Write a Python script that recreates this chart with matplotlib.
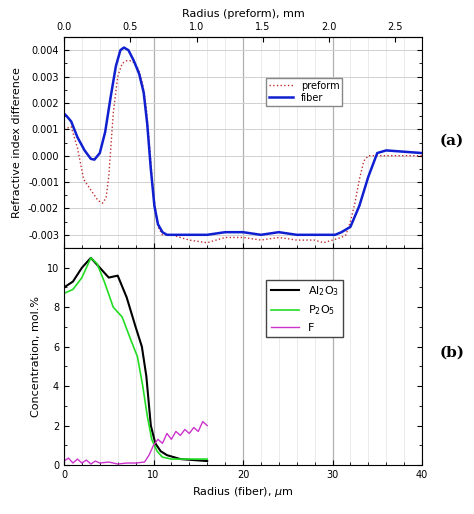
import matplotlib
matplotlib.use("Agg")
import matplotlib.pyplot as plt
import numpy as np

fib_x = [0,0.3,0.8,1.5,2.3,3.0,3.4,4.0,4.6,5.2,5.8,6.3,6.7,7.2,7.8,8.4,8.9,9.3,9.7,10.1,10.5,11.0,11.5,12,14,16,18,20,22,24,26,28,29.5,30.3,31,32,33,34,35,36,38,40]
fib_y = [0.0016,0.0015,0.0013,0.0007,0.0002,-0.00012,-0.00015,0.0001,0.0009,0.0022,0.0034,0.004,0.0041,0.004,0.0036,0.0031,0.0024,0.0012,-0.0005,-0.0019,-0.0026,-0.0029,-0.003,-0.003,-0.003,-0.003,-0.0029,-0.0029,-0.003,-0.0029,-0.003,-0.003,-0.003,-0.003,-0.0029,-0.0027,-0.0019,-0.0008,0.0001,0.0002,0.00015,0.0001]
pre_x = [0,0.8,1.5,2.2,3.0,3.8,4.3,4.7,5.0,5.5,6.0,6.5,7.0,7.6,8.3,8.8,9.2,9.6,10.0,10.5,11.0,12,13,14,16,18,20,22,24,26,28,29,30,31,31.5,32,32.5,33,33.5,34,36,40]
pre_y = [0.001,0.0011,0.0003,-0.0009,-0.0013,-0.0017,-0.0018,-0.0016,-0.0008,0.0016,0.003,0.0035,0.0036,0.0036,0.0033,0.0027,0.0018,0.0002,-0.0015,-0.0027,-0.003,-0.003,-0.0031,-0.0032,-0.0033,-0.0031,-0.0031,-0.0032,-0.0031,-0.0032,-0.0032,-0.0033,-0.0032,-0.0031,-0.003,-0.0025,-0.0018,-0.0009,-0.0002,0.0,0.0,0.0]

al_x = [0,1,2,3,4,5,6,7,8,8.7,9.2,9.7,10.2,10.8,11.5,13,16]
al_y = [9.0,9.3,10.0,10.5,10.0,9.5,9.6,8.5,7.0,6.0,4.5,2.0,1.1,0.7,0.5,0.3,0.2]
p_x = [0,1,2,3,3.7,4.5,5.5,6.5,7.5,8.2,8.8,9.3,9.8,10.4,11,12,14,16]
p_y = [8.7,8.9,9.5,10.5,10.2,9.3,8.0,7.5,6.3,5.5,4.0,2.5,1.3,0.7,0.4,0.3,0.3,0.3]
f_x = [0,0.5,1,1.5,2,2.5,3,3.5,4,5,6,7,8,9,9.5,10,10.5,11,11.5,12,12.5,13,13.5,14,14.5,15,15.5,16]
f_y = [0.2,0.35,0.1,0.3,0.1,0.25,0.05,0.2,0.1,0.15,0.05,0.1,0.1,0.15,0.5,1.0,1.3,1.1,1.6,1.3,1.7,1.5,1.8,1.6,1.9,1.7,2.2,2.0]

fig = plt.figure(figsize=(4.74,5.14), dpi=100)
ax1 = fig.add_axes([64/474, 1-248/514, 358/474, 211/514])
ax2 = fig.add_axes([64/474, 1-465/514, 358/474, 217/514])

for ax in (ax1, ax2):
    ax.set_xlim(0,40)
    ax.set_xticks(np.arange(0,41,10))
    ax.set_xticks(np.arange(0,41,2), minor=True)
    ax.grid(True, which='minor', color='#e6e6e6', lw=0.6)
    ax.grid(True, which='major', color='#b0b0b0', lw=0.9)
    ax.set_axisbelow(True)
    ax.tick_params(labelsize=7, direction='in', which='both', top=False, right=True)

ax1.plot(pre_x, pre_y, ':', color='#c03030', lw=1.0, label='preform')
ax1.plot(fib_x, fib_y, '-', color='#1020d0', lw=1.8, label='fiber')
ax1.set_ylim(-0.0035, 0.0045)
ax1.set_yticks(np.arange(-0.003,0.0041,0.001))
ax1.set_yticks(np.arange(-0.003,0.0046,0.0005), minor=True)
ax1.yaxis.set_major_formatter(matplotlib.ticker.FormatStrFormatter('%.3f'))
ax1.grid(False, which='minor', axis='y')
ax1.grid(True, which='major', axis='y', color='#d0d0d0', lw=0.7)
ax1.tick_params(labelbottom=False)
ax1.set_ylabel('Refractive index difference', fontsize=8)
ax1.legend(loc='upper left', bbox_to_anchor=(0.55,0.83), fontsize=7, framealpha=1, edgecolor='#888', fancybox=False, handlelength=2.5, borderpad=0.3, labelspacing=0.2)
top = ax1.secondary_xaxis('top', functions=(lambda x: x*2.7/40, lambda x: x*40/2.7))
top.set_xticks(np.arange(0,2.6,0.5))
top.xaxis.set_major_formatter(matplotlib.ticker.FormatStrFormatter('%.1f'))
top.tick_params(labelsize=7, direction='in')
top.set_xlabel('Radius (preform), mm', fontsize=8)

ax2.plot(al_x, al_y, '-', color='black', lw=1.5, label='Al$_2$O$_3$')
ax2.plot(p_x, p_y, '-', color='#22dd22', lw=1.2, label='P$_2$O$_5$')
ax2.plot(f_x, f_y, '-', color='#cc33cc', lw=1.0, label='F')
ax2.set_ylim(0, 11)
ax2.set_yticks([0,2,4,6,8,10])
ax2.set_yticks(np.arange(0,11,1), minor=True)
ax2.grid(False, which='both', axis='y')
ax2.set_ylabel('Concentration, mol.%', fontsize=8)
ax2.set_xlabel('Radius (fiber), $\\mu$m', fontsize=8)
ax2.legend(loc='upper left', bbox_to_anchor=(0.55,0.88), fontsize=8, framealpha=1, edgecolor='#444', fancybox=False, handlelength=2.5, borderpad=0.4, labelspacing=0.5)

fig.text(452/474, 1-141/514, '(a)', fontsize=11, fontweight='bold', family='DejaVu Serif', ha='center', va='center')
fig.text(452/474, 1-353/514, '(b)', fontsize=11, fontweight='bold', family='DejaVu Serif', ha='center', va='center')
fig.savefig('out.png', dpi=100)
